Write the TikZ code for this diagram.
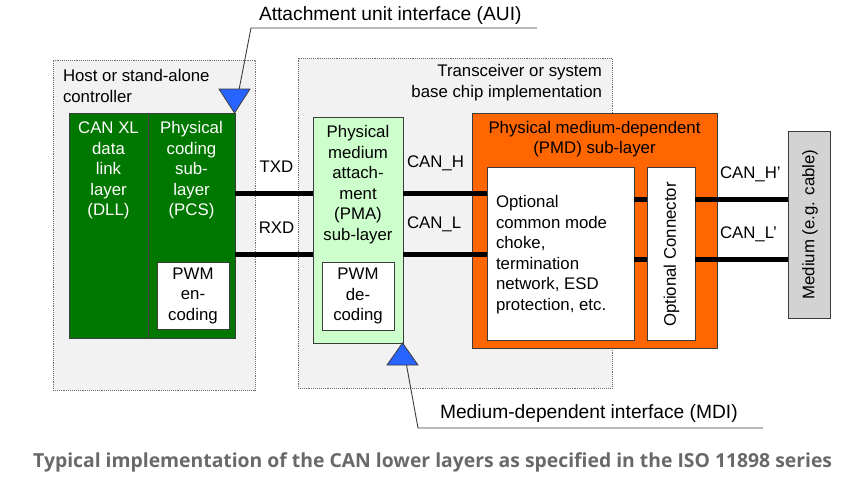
\documentclass[tikz,border=0pt]{standalone}
\usepackage{fontspec}
\setmainfont{Liberation Sans}
\newfontfamily\capfont{Open Sans}
\definecolor{dgreen}{RGB}{0,120,0}
\definecolor{lgreen}{RGB}{204,255,204}
\definecolor{orng}{RGB}{255,102,0}
\definecolor{panel}{RGB}{242,242,242}
\definecolor{medgray}{RGB}{211,211,211}
\definecolor{triblue}{RGB}{40,100,255}
\definecolor{capgray}{RGB}{105,105,105}
\definecolor{boxline}{RGB}{60,60,60}
\definecolor{dotline}{RGB}{110,110,110}
\begin{document}
\begin{tikzpicture}[x=1pt,y=-1pt,
  box/.style={draw=boxline, line width=0.9pt, inner sep=0pt, outer sep=0pt, anchor=north west},
  panelbox/.style={draw=dotline, fill=panel, densely dotted, line width=0.9pt, inner sep=0pt, outer sep=0pt, anchor=north west},
  lbl/.style={inner sep=0pt, outer sep=0pt, font=\fontsize{16.8}{20.5}\selectfont},
  big/.style={inner sep=0pt, outer sep=0pt, font=\fontsize{19.2}{23}\selectfont},
  wire/.style={line width=5pt},
  leader/.style={draw=boxline, line width=0.9pt},
  tri/.style={fill=triblue, draw=boxline, line width=0.8pt}]
\useasboundingbox (0,0) rectangle (856,483);
\fill[white] (0,0) rectangle (856,483);

% panels
\node[panelbox, minimum width=202pt, minimum height=330pt] (host) at (53,60) {};
\node[panelbox, minimum width=314pt, minimum height=330pt] (trx) at (298,58) {};
\node[lbl, align=left, anchor=north west] (hosttxt) at (63,69.7) {Host or stand-alone\\controller};
\node[lbl, align=right, anchor=north east] (trxtxt) at (602,64.7) {Transceiver or system\\base chip implementation};

% controller blocks
\node[box, fill=dgreen, minimum width=79pt, minimum height=225pt] (dll) at (69,113) {};
\node[box, fill=dgreen, minimum width=87pt, minimum height=225pt] (pcs) at (148,113) {};
\node[lbl, text=white, align=center] (dlltxt) at (108.5,170.4) {CAN XL\\data\\link\\layer\\(DLL)};
\node[lbl, text=white, align=center] (pcstxt) at (191.5,170.3) {Physical\\coding\\sub-\\layer\\(PCS)};
\node[box, fill=white, minimum width=72pt, minimum height=67pt] (pwmen) at (157,262) {};
\node[lbl, align=center] (pwmentxt) at (pwmen.center) {PWM\\en-\\coding};

% PMA
\node[box, fill=lgreen, minimum width=90pt, minimum height=226pt] (pma) at (313,117) {};
\node[lbl, align=center] (pmatxt) at (358,184.6) {Physical\\medium\\attach-\\ment\\(PMA)\\sub-layer};
\node[box, fill=white, minimum width=72pt, minimum height=68pt] (pwmde) at (322,262) {};
\node[lbl, align=center] (pwmdetxt) at (pwmde.center) {PWM\\de-\\coding};

% PMD
\node[box, fill=orng, minimum width=245pt, minimum height=235pt] (pmd) at (472,113) {};
\node[lbl, align=center] (pmdtxt) at (594.5,138.9) {Physical medium-dependent\\(PMD) sub-layer};
\node[box, fill=white, minimum width=147pt, minimum height=173pt] (choke) at (487,167) {};
\node[lbl, align=left, anchor=west] (choketxt) at (496,254.6) {Optional\\common mode\\choke,\\termination\\network, ESD\\protection, etc.};
\node[box, fill=white, minimum width=48pt, minimum height=173pt] (conn) at (647,167) {};
\node[lbl, rotate=90] (conntxt) at (671.5,254.5) {Optional Connector};

% medium
\node[box, fill=medgray, minimum width=42pt, minimum height=187pt] (med) at (788,131) {};
\node[lbl, rotate=90] (medtxt) at (810,224.5) {Medium (e.g. cable)};

% wires
\draw[wire] (pcs.east |- 0,193) -- (pma.west |- 0,193);
\draw[wire] (pcs.east |- 0,254) -- (pma.west |- 0,254);
\draw[wire] (pma.east |- 0,193) -- (choke.west |- 0,193);
\draw[wire] (pma.east |- 0,254) -- (choke.west |- 0,254);
\draw[wire] (choke.east |- 0,199) -- (conn.west |- 0,199);
\draw[wire] (choke.east |- 0,259) -- (conn.west |- 0,259);
\draw[wire] (conn.east |- 0,199) -- (med.west |- 0,199);
\draw[wire] (conn.east |- 0,259) -- (med.west |- 0,259);

% wire labels
\node[lbl, anchor=base] (txd) at (276.5,172) {TXD};
\node[lbl, anchor=base] (rxd) at (276.5,233) {RXD};
\node[lbl, anchor=base west] (canh) at (407,167) {CAN\_H};
\node[lbl, anchor=base west] (canl) at (407,228) {CAN\_L};
\node[lbl, anchor=base west] (canhp) at (720,178) {CAN\_H'};
\node[lbl, anchor=base west] (canlp) at (720,238) {CAN\_L'};

% AUI
\coordinate (auitip) at (234.5,113);
\coordinate (auibend) at (251,28);
\node[big, anchor=base west] (aui) at (259,20) {Attachment unit interface (AUI)};
\coordinate (auiend) at (537,28);
\draw[leader] (auitip) -- (auibend) -- (auiend);
\draw[tri] (219,89) -- (250,89) -- (auitip) -- cycle;

% MDI
\coordinate (mditip) at (402.5,343);
\coordinate (mdibend) at (418,428);
\node[big, anchor=base west] (mdi) at (440,418) {Medium-dependent interface (MDI)};
\coordinate (mdiend) at (763,428);
\draw[leader] (mditip) -- (mdibend) -- (mdiend);
\draw[tri] (387,365) -- (418,365) -- (mditip) -- cycle;

% caption
\node[inner sep=0pt, anchor=base west, text=capgray, font=\capfont\bfseries\fontsize{19.35}{23}\selectfont] (cap) at (33,467) {Typical implementation of the CAN lower layers as specified in the ISO 11898 series};
\end{tikzpicture}
\end{document}
